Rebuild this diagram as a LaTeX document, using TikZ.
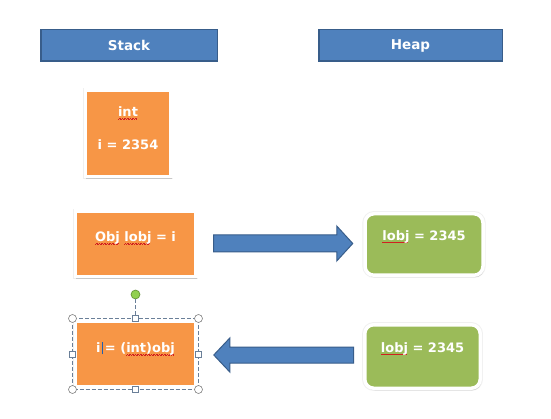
\documentclass[tikz,border=0pt]{standalone}
\usepackage{fontspec}
\setmainfont{DejaVu Sans}
\usetikzlibrary{shadows,calc}
\definecolor{orng}{HTML}{F79646}
\definecolor{bluefill}{HTML}{4F81BD}
\definecolor{blueline}{HTML}{385D8A}
\definecolor{grn}{HTML}{9BBB59}
\definecolor{selcol}{HTML}{6A7F98}
\definecolor{dotgreen}{HTML}{92D050}
\definecolor{dotline}{HTML}{5E8C31}
\definecolor{cursorblue}{HTML}{1F5FB0}
\definecolor{spellred}{HTML}{D02020}
\newcommand\spellwave[1]{\setbox0\hbox{#1}\leavevmode
  \rlap{\raisebox{-2.6pt}{\textcolor{spellred}{\hbox to \wd0{\leaders\hbox{\rule{0.5pt}{0.5pt}\kern0.3pt\rule[0.6pt]{0.5pt}{0.5pt}\kern0.3pt}\hfill}}}}\box0\relax}
\begin{document}
\begin{tikzpicture}[x=1pt,y=-1pt,
  hdr/.style={draw=blueline, line width=1.5pt, fill=bluefill, text=white,
    font=\bfseries\fontsize{13.5}{15}\selectfont, inner sep=0},
  stackbox/.style={draw=white, line width=3.5pt, fill=orng, text=white,
    font=\bfseries\fontsize{13}{16}\selectfont, align=center, inner sep=0,
    preaction={draw=black!6, line width=5.3pt},
    drop shadow={opacity=.35, shadow xshift=1pt, shadow yshift=-2pt}},
  heapbox/.style={stackbox, fill=grn, rounded corners=9pt},
  blockarrow/.style={draw=blueline, line width=1pt, fill=bluefill, line join=miter},
  seldash/.style={draw=selcol, line width=0.7pt, dash pattern=on 4pt off 2pt},
  cornerhandle/.style={circle, draw=gray, line width=0.6pt, fill=white, inner sep=0, minimum size=8pt},
  sidehandle/.style={rectangle, draw=selcol, line width=0.6pt, fill=white, inner sep=0, minimum size=6pt},
  rotdot/.style={circle, draw=dotline, line width=0.6pt, fill=dotgreen, inner sep=0, minimum size=9pt}
]
\useasboundingbox[fill=white] (0,0) rectangle (551,419);

% headers
\node[hdr, minimum width=176.5pt, minimum height=31.5pt] (stack) at (129,45.5) {Stack};
\node[hdr, minimum width=183.5pt, minimum height=31.5pt] (heap) at (410.5,45.5) {Heap};

% stack boxes
\node[stackbox, minimum width=85.5pt, minimum height=86.5pt] (intbox) at (128,133.5)
  {\spellwave{int}\\[17pt]i = 2354\\[-10pt]\strut};
\node[stackbox, minimum width=120.5pt, minimum height=65.5pt] (obj) at (135.5,244)
  {\spellwave{Obj} \spellwave{lobj} = i\\[-6pt]\strut};
\node[stackbox, minimum width=120.5pt, minimum height=65.5pt] (bot) at (135.5,354)
  {i\kern1pt\textcolor{cursorblue}{\rule[-1.5pt]{1.3pt}{12pt}}\kern2pt= (\spellwave{int)obj}\\[-8pt]\strut};

% heap boxes
\node[heapbox, minimum width=118pt, minimum height=61.5pt] (green1) at (424,244.5)
  {\spellwave{lobj} = 2345\\[-2pt]\strut};
\node[heapbox, minimum width=115.5pt, minimum height=63.5pt] (green2) at (422.5,356.5)
  {\spellwave{lobj} = 2345\\[-2pt]\strut};

% selection frame around bottom box
\coordinate (snw) at ($(bot.north west)+(-1,-1)$);
\coordinate (sse) at ($(bot.south east)+(1,1)$);
\draw[seldash] (snw) rectangle (sse);
\coordinate (sne) at (snw -| sse);
\coordinate (ssw) at (sse -| snw);
\node[sidehandle] (htop) at ($(snw)!0.5!(sne)$) {};
\node[sidehandle] (hbot) at ($(ssw)!0.5!(sse)$) {};
\node[sidehandle] (hleft) at ($(snw)!0.5!(ssw)$) {};
\node[sidehandle] (hright) at ($(sne)!0.5!(sse)$) {};
\node[cornerhandle] (hnw) at (snw) {};
\node[cornerhandle] (hne) at (sne) {};
\node[cornerhandle] (hsw) at (ssw) {};
\node[cornerhandle] (hse) at (sse) {};
\node[rotdot] (rot) at ($(htop)+(0,-24)$) {};
\draw[seldash] (rot) -- (htop);

% right block arrow: obj -> green1
\coordinate (r1s) at ($(obj.east)+(16,-0.5)$);
\coordinate (r1e) at ($(r1s -| green1.west)+(-10.5,0)$);
\draw[blockarrow] ($(r1s)+(0,-8.5)$) -- ($(r1e)+(-16,-8.5)$) -- ($(r1e)+(-16,-17.5)$)
  -- (r1e) -- ($(r1e)+(-16,17.5)$) -- ($(r1e)+(-16,8.5)$) -- ($(r1s)+(0,8.5)$) -- cycle;

% left block arrow: green2 -> bot
\coordinate (l1s) at ($(green2.west)+(-9.5,-1.5)$);
\coordinate (l1e) at ($(l1s -| hright.east)+(12,0)$);
\draw[blockarrow] ($(l1s)+(0,-8)$) -- ($(l1e)+(16,-8)$) -- ($(l1e)+(16,-17)$)
  -- (l1e) -- ($(l1e)+(16,17)$) -- ($(l1e)+(16,8)$) -- ($(l1s)+(0,8)$) -- cycle;
\end{tikzpicture}
\end{document}
